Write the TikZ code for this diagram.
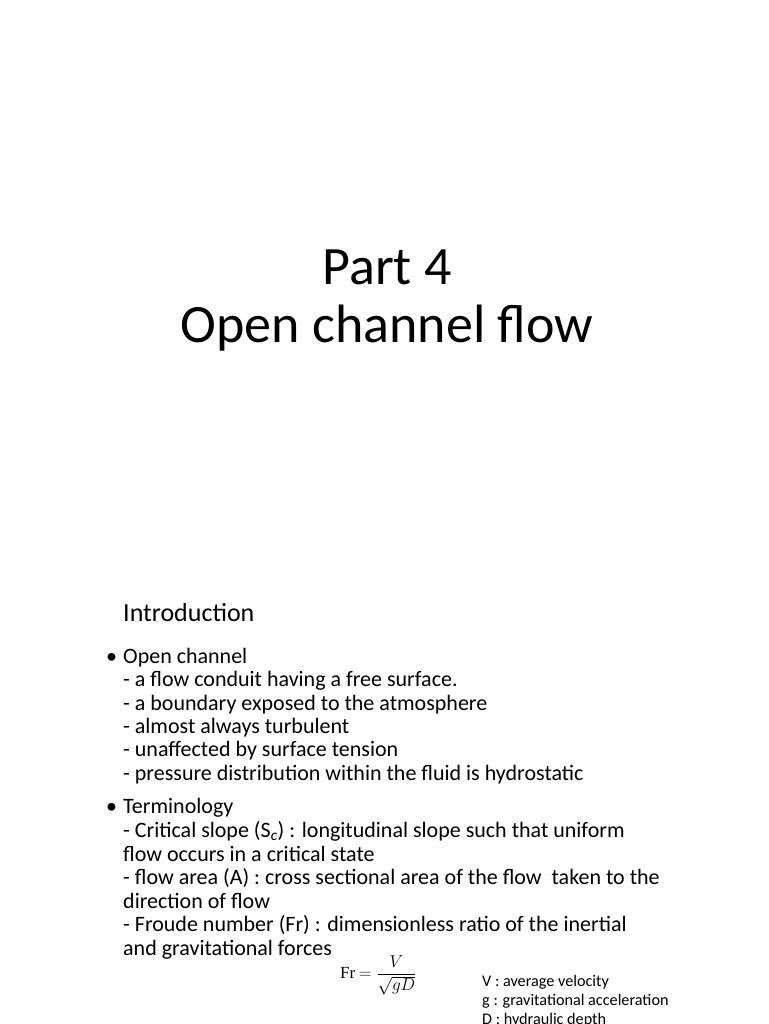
\documentclass[tikz,border=0pt]{standalone}
\usepackage{fontspec}
\setmainfont{Carlito}
\newfontfamily\serifff{Liberation Serif}
\begin{document}
\begin{tikzpicture}[x=1pt,y=-1pt,
  body/.style={anchor=base west,inner sep=0pt,font=\fontsize{22}{26}\selectfont},
  leg/.style={anchor=base west,inner sep=0pt,font=\fontsize{16.2}{18}\selectfont}]
\useasboundingbox (0,0) rectangle (768,1024);
\node[inner sep=0pt,font=\fontsize{54}{60}\selectfont,anchor=base] (t1) at (387,284) {Part 4};
\node[inner sep=0pt,font=\fontsize{54}{60}\selectfont,anchor=base] (t2) at (387,342) {Open channel flow};
\node[inner sep=0pt,anchor=base west,font=\fontsize{26}{30}\selectfont] (intro) at (123,621) {Introduction};
\node[body] (b1) at (106,663) {•};
\node[body] (l1) at (123,663) {Open channel};
\node[body] (l2) at (123,686) {- a flow conduit having a free surface.};
\node[body] (l3) at (123,710) {- a boundary exposed to the atmosphere};
\node[body] (l4) at (123,733) {- almost always turbulent};
\node[body] (l5) at (123,756) {- unaffected by surface tension};
\node[body] (l6) at (123,780) {- pressure distribution within the fluid is hydrostatic};
\node[body] (b2) at (106,813) {•};
\node[body] (m1) at (123,813) {Terminology};
\node[body] (m2) at (123,837) {- Critical slope (S\textsubscript{\textit{c}}) : longitudinal slope such that uniform};
\node[body] (m3) at (123,861) {flow occurs in a critical state};
\node[body] (m4) at (123,884) {- flow area (A) : cross sectional area of the flow\ \ taken to the};
\node[body] (m5) at (123,908) {direction of flow};
\node[body] (m6) at (123,931) {- Froude number (Fr) : dimensionless ratio of the inertial};
\node[body] (m7) at (123,955) {and gravitational forces};
\node[inner sep=0pt,font=\fontsize{17}{20}\selectfont,anchor=west] (fr) at (340,975) {{\serifff Fr} $=\displaystyle\frac{V}{\sqrt{gD}}$};
\node[leg] (v1) at (482,986) {V : average velocity};
\node[leg] (v2) at (482,1005) {g : gravitational acceleration};
\node[leg] (v3) at (482,1024) {D : hydraulic depth};
\end{tikzpicture}
\end{document}
